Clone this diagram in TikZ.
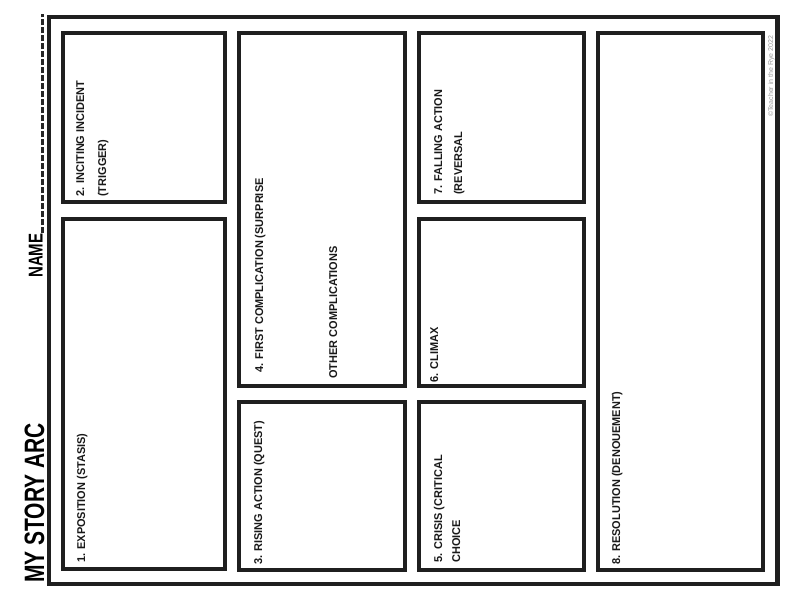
\documentclass[tikz,border=0pt]{standalone}
\usepackage{fontspec}
\setmainfont{Liberation Sans}
\newfontfamily\titlefont[FakeStretch=0.75]{Liberation Sans}
\newfontfamily\lblfont[FakeStretch=0.97]{Liberation Sans}
\begin{document}
\begin{tikzpicture}[x=1pt,y=-1pt,
  frame/.style={draw=black!88,line width=4.2pt},
  panel/.style={draw=black!88,line width=3.8pt},
  lbl/.style={rotate=90,anchor=base west,inner sep=0pt,font=\lblfont\bfseries\fontsize{11.3}{13}\selectfont,text=black!90},
  ttl/.style={rotate=90,anchor=base west,inner sep=0pt,font=\titlefont\bfseries\fontsize{28}{30}\selectfont},
  nm/.style={rotate=90,anchor=base west,inner sep=0pt,font=\titlefont\bfseries\fontsize{20}{22}\selectfont},
  copy/.style={rotate=90,anchor=base west,inner sep=0pt,font=\fontsize{7}{8}\selectfont,text=black!40},
  nameline/.style={draw=black!85,line width=2.6pt,dash pattern=on 6pt off 2pt}]
\fill[white] (0,0) rectangle (794,613);
\useasboundingbox (0,0) rectangle (794,613);
% outer frame
\draw[frame] (48.8,17) rectangle (777.5,583.7);
% panels
\draw[panel] (63,33) rectangle (225,202);      % 2
\draw[panel] (63,219) rectangle (225,569);     % 1
\draw[panel] (239,33) rectangle (404.7,386);   % 4
\draw[panel] (239,402) rectangle (404.7,569.7);% 3
\draw[panel] (418.7,33) rectangle (583.8,202); % 7
\draw[panel] (418.7,218.7) rectangle (583.8,385.7); % 6
\draw[panel] (418.7,402) rectangle (583.8,569.7);   % 5
\draw[panel] (598,33) rectangle (763.3,569.7); % 8
% labels
\node[lbl] (l1) at (85,563) {1. EXPOSITION (STASIS)};
\node[lbl] (l2a) at (84,197) {2. INCITING INCIDENT};
\node[lbl] (l2b) at (106,197) {(TRIGGER)};
\node[lbl] (l4a) at (263,373) {4. FIRST COMPLICATION (SURPRISE};
\node[lbl] (l4b) at (337,379) {OTHER COMPLICATIONS};
\node[lbl] (l3) at (262,565) {3. RISING ACTION (QUEST)};
\node[lbl] (l7a) at (442,195) {7. FALLING ACTION};
\node[lbl] (l7b) at (462,195) {(REVERSAL};
\node[lbl] (l6) at (438,383) {6. CLIMAX};
\node[lbl] (l5a) at (442,563) {5. CRISIS (CRITICAL};
\node[lbl] (l5b) at (460,563) {CHOICE};
\node[lbl] (l8) at (620,565) {8. RESOLUTION (DENOUEMENT)};
\node[copy] (cp) at (773,117) {\textcopyright Teacher in the Rye 2022};
% title and name
\node[ttl] (title) at (44,583) {MY STORY ARC};
\node[nm] (name) at (42.5,278) {NAME};
\coordinate (top) at (42.5,14);
\draw[nameline] (name.base east) -- (top);
\end{tikzpicture}
\end{document}
